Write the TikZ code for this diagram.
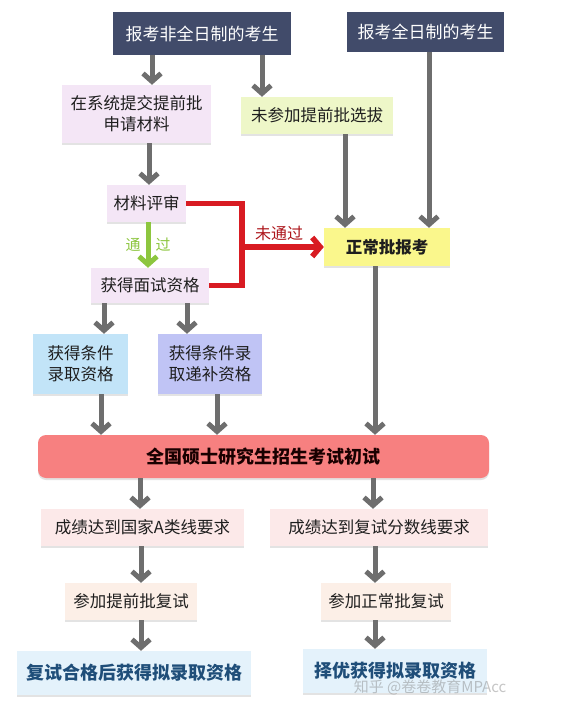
\documentclass[tikz,border=0pt]{standalone}
\usepackage{fontspec}
\setmainfont{Noto Sans CJK SC}
\usetikzlibrary{arrows.meta,shadows}
\definecolor{navy}{HTML}{414B6A}
\definecolor{lav}{HTML}{F4E6F6}
\definecolor{ygreen}{HTML}{EEF7C8}
\definecolor{yel}{HTML}{FAF78C}
\definecolor{lblue}{HTML}{C2E4F8}
\definecolor{lviolet}{HTML}{C0C4F5}
\definecolor{salmon}{HTML}{F78080}
\definecolor{lpink}{HTML}{FCE9E9}
\definecolor{lpeach}{HTML}{FCEFE7}
\definecolor{pblue}{HTML}{E4F2FB}
\definecolor{dblue}{HTML}{1F4E79}
\definecolor{gline}{HTML}{6E6E6E}
\definecolor{rline}{HTML}{D81B22}
\definecolor{gr}{HTML}{8DC63F}
\definecolor{txt}{HTML}{1E1E1E}
\tikzset{
  box/.style={draw=none, inner sep=0pt, align=center, text=txt,
    font=\fontsize{16.5}{21}\selectfont,
    drop shadow={shadow xshift=0pt, shadow yshift=-2pt, opacity=0.22}},
  navybox/.style={fill=navy, inner sep=0pt, text=white, font=\fontsize{17}{21}\selectfont},
  conn/.style={draw=gline, line width=5pt, -{Straight Barb[length=8pt,width=18pt]}},
  redconn/.style={draw=rline, line width=5.5pt},
  greenconn/.style={draw=gr, line width=5pt, -{Straight Barb[length=8pt,width=18pt]}},
}
\begin{document}
\begin{tikzpicture}[x=1pt,y=-1pt]
\useasboundingbox (0,0) rectangle (579,714);
\fill[white] (0,0) rectangle (579,714);
% nodes
\node[navybox, minimum width=178pt, minimum height=43pt] (A) at (202,33.5) {报考非全日制的考生};
\node[navybox, minimum width=157pt, minimum height=40pt] (B) at (425.5,32) {报考全日制的考生};
\node[box, fill=lav, minimum width=149pt, minimum height=58pt] (C) at (136.5,114) {在系统提交提前批\\申请材料};
\node[box, fill=ygreen, minimum width=152pt, minimum height=37pt] (D) at (317,115.5) {未参加提前批选拔};
\node[box, fill=lav, minimum width=79pt, minimum height=37pt] (E) at (146.5,203.5) {材料评审};
\node[box, fill=yel, minimum width=126pt, minimum height=38pt, font=\fontsize{16.5}{21}\selectfont\bfseries] (F) at (387,247) {正常批报考};
\node[box, fill=lav, minimum width=118pt, minimum height=35pt] (G) at (150,285.5) {获得面试资格};
\node[box, fill=lblue, minimum width=95pt, minimum height=60pt] (H) at (80.5,364) {获得条件\\录取资格};
\node[box, fill=lviolet, minimum width=104pt, minimum height=60pt] (I) at (210,364) {获得条件录\\取递补资格};
\node[box, fill=salmon, rounded corners=8pt, minimum width=451pt, minimum height=43pt, text=black!90!red, font=\fontsize{18}{21}\selectfont\bfseries] (J) at (263.5,456.5) {全国硕士研究生招生考试初试};
\node[box, fill=lpink, minimum width=203pt, minimum height=37pt] (K) at (142.5,527.5) {成绩达到国家A类线要求};
\node[box, fill=lpink, minimum width=218pt, minimum height=37pt] (L) at (379,527.5) {成绩达到复试分数线要求};
\node[box, fill=lpeach, minimum width=132pt, minimum height=37pt] (M) at (131,601.5) {参加提前批复试};
\node[box, fill=lpeach, minimum width=130pt, minimum height=37pt] (N) at (386,601.5) {参加正常批复试};
\node[box, fill=pblue, minimum width=234pt, minimum height=44pt, text=dblue, font=\fontsize{18}{21}\selectfont\bfseries] (O) at (134,673) {复试合格后获得拟录取资格};
\node[box, fill=pblue, minimum width=184pt, minimum height=44pt, text=dblue, font=\fontsize{18}{21}\selectfont\bfseries] (P) at (395,671) {择优获得拟录取资格};
% column coordinates
\coordinate (x101) at (101,0);
\coordinate (x104) at (104,0);
\coordinate (x140) at (140,0);
\coordinate (x141) at (141,0);
\coordinate (x148) at (148,0);
\coordinate (x149) at (149,0);
\coordinate (x152) at (152,0);
\coordinate (x187) at (187,0);
\coordinate (x217) at (217,0);
\coordinate (x242) at (242,0);
\coordinate (x262) at (262,0);
\coordinate (x345) at (345,0);
\coordinate (x373) at (373,0);
\coordinate (x375) at (375,0);
\coordinate (x429) at (429,0);
% connectors
\draw[conn] (A.south -| x152) -- (C.north -| x152);
\draw[conn] (A.south -| x262) -- (D.north -| x262);
\draw[conn] (C.south -| x149) -- (E.north -| x149);
\draw[conn] (D.south -| x345) -- (F.north -| x345);
\draw[conn] (B.south -| x429) -- (F.north -| x429);
\draw[greenconn] (E.south -| x148) -- (G.north -| x148);
\node[text=gr, font=\fontsize{15}{17}\selectfont] (t1) at (133,245) {通};
\node[text=gr, font=\fontsize{15}{17}\selectfont] (t2) at (163,245) {过};
\draw[redconn, line join=miter] (E.east) -- (E.east -| x242) -- (G.east -| x242) -- (G.east);
\draw[redconn, -{Straight Barb[length=8pt,width=19pt]}] (F.west -| x242) -- (F.west);
\node[text=rline!80!black, font=\fontsize{16}{18}\selectfont] (nt) at (279,233) {未通过};
\draw[conn] (G.south -| x104) -- (H.north -| x104);
\draw[conn] (G.south -| x187) -- (I.north -| x187);
\draw[conn] (H.south -| x101) -- (J.north -| x101);
\draw[conn] (I.south -| x217) -- (J.north -| x217);
\draw[conn] (F.south -| x375) -- (J.north -| x375);
\draw[conn] (J.south -| x140) -- (K.north -| x140);
\draw[conn] (J.south -| x373) -- (L.north -| x373);
\draw[conn] (K.south -| x141) -- (M.north -| x141);
\draw[conn] (L.south -| x375) -- (N.north -| x375);
\draw[conn] (M.south -| x141) -- (O.north -| x141);
\draw[conn] (N.south -| x375) -- (P.north -| x375);
% watermark
\node[text=gray, opacity=0.45, font=\fontsize{15}{18}\selectfont] (wm) at (430,687) {知乎 @卷卷教育MPAcc};
\end{tikzpicture}
\end{document}
